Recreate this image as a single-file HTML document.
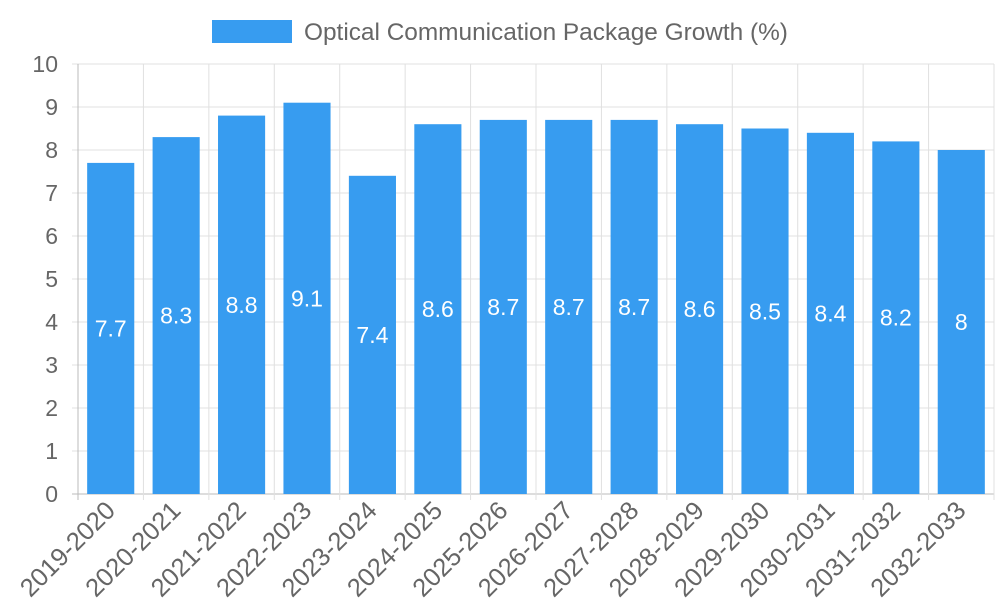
<!DOCTYPE html>
<html><head><meta charset="utf-8"><style>
body{margin:0;background:#fff}
svg{font-family:"Liberation Sans",sans-serif}
</style></head><body>
<svg id="chart" width="1000" height="600" viewBox="0 0 1000 600" xmlns="http://www.w3.org/2000/svg">
<g>
<rect x="212" y="20" width="80" height="23" fill="#379cf0"/>
<text x="304" y="40" font-size="24.4" fill="#666">Optical Communication Package Growth (%)</text>
</g>
<g id="grid"></g><g id="bars"></g><g id="labels"></g>
</svg>
<script>
const categories=["2019-2020","2020-2021","2021-2022","2022-2023","2023-2024","2024-2025","2025-2026","2026-2027","2027-2028","2028-2029","2029-2030","2030-2031","2031-2032","2032-2033"];
const values=[7.7,8.3,8.8,9.1,7.4,8.6,8.7,8.7,8.7,8.6,8.5,8.4,8.2,8];
const yTicks=[0,1,2,3,4,5,6,7,8,9,10];
const NS="http://www.w3.org/2000/svg";
const L=78,R=994,T=64,B=494,yMax=10;
const bw=(R-L)/categories.length;
const y=v=>B-(v/yMax)*(B-T);
const x=i=>L+i*bw;
function mk(t,a,p){const e=document.createElementNS(NS,t);for(const k in a)e.setAttribute(k,a[k]);p.appendChild(e);return e;}
const grid=document.getElementById('grid'),bars=document.getElementById('bars'),labels=document.getElementById('labels');
yTicks.forEach(t=>{
 const l=mk('line',{x1:L-6,x2:R,y1:y(t),y2:y(t),stroke:t===0?'#bbb':'#e0e0e0','stroke-width':1},grid);
 
 
 const tx=mk('text',{x:L-20,y:y(t)+8,'text-anchor':'end','font-size':23,fill:'#666'},grid);
 tx.textContent=t;
 
 
});
for(let i=0;i<=categories.length;i++){
 const l=mk('line',{x1:x(i),x2:x(i),y1:T,y2:B+6,stroke:i===0?'#bbb':'#e0e0e0','stroke-width':1},grid);
 
 
}
categories.forEach((c,i)=>{
 const cx=x(i)+bw/2,w=bw*0.72;
 const r=mk('rect',{x:cx-w/2,y:y(values[i]),width:w,height:B-y(values[i]),fill:'#379cf0'},bars);
 
 
 const v=mk('text',{x:cx,y:(y(values[i])+B)/2+8,'text-anchor':'middle','font-size':23,fill:'#fff'},labels);
 v.textContent=values[i];
 
 
 const xl=mk('text',{x:cx+6,y:B+18,'text-anchor':'end','font-size':25.5,fill:'#666',transform:`rotate(-45 ${cx+6} ${B+18})`},labels);
 xl.textContent=c;
 
 
});
</script>
</body></html>
